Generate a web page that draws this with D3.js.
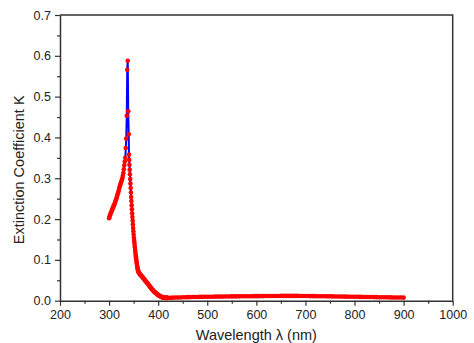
<!DOCTYPE html>
<html>
<head>
<meta charset="utf-8">
<script src="https://cdn.jsdelivr.net/npm/d3@7/dist/d3.min.js"></script>
<style>
  html, body { margin: 0; padding: 0; background: #fff; }
  svg { display: block; }
  text { font-family: "Liberation Sans", Arial, sans-serif; fill: #222; }
</style>
</head>
<body>
<svg id="chart" width="474" height="343"></svg>
<script>
// Extinction coefficient K of the film versus wavelength, sampled in segments.
// Near-UV rise, 300-332 nm every 1 nm
const riseStart = 300, riseStep = 1;
const riseK = [0.202, 0.206, 0.210, 0.213, 0.216, 0.219, 0.222, 0.225, 0.228, 0.231,
               0.234, 0.237, 0.240, 0.244, 0.247, 0.251, 0.255, 0.259, 0.263, 0.267,
               0.272, 0.277, 0.281, 0.285, 0.289, 0.292, 0.296, 0.300, 0.306, 0.313,
               0.322, 0.332, 0.341];
// Absorption peak, 333-340 nm every 1 nm
const peakStart = 333, peakStep = 1;
const peakK = [0.350, 0.374, 0.397, 0.453, 0.566, 0.588, 0.464, 0.408];
// Falling edge, 340.5-360 nm every 0.5 nm
const edgeStart = 340.5, edgeStep = 0.5;
const edgeK = [0.358, 0.345, 0.333, 0.321, 0.310, 0.298, 0.287, 0.276, 0.265, 0.254,
               0.244, 0.234, 0.224, 0.214, 0.205, 0.196, 0.187, 0.178, 0.170, 0.162,
               0.155, 0.149, 0.143, 0.137, 0.131, 0.125, 0.120, 0.114, 0.109, 0.104,
               0.099, 0.095, 0.091, 0.087, 0.083, 0.080, 0.077, 0.074, 0.072, 0.070];
// Shoulder and tail, 361-420 nm every 1 nm
const tailStart = 361, tailStep = 1;
const tailK = [0.068, 0.066, 0.065, 0.063, 0.062, 0.061, 0.059, 0.058, 0.056, 0.055,
               0.053, 0.052, 0.050, 0.049, 0.047, 0.046, 0.044, 0.043, 0.041, 0.040,
               0.038, 0.036, 0.035, 0.033, 0.032, 0.030, 0.029, 0.027, 0.026, 0.025,
               0.023, 0.022, 0.021, 0.020, 0.019, 0.018, 0.017, 0.016, 0.015, 0.014,
               0.013, 0.012, 0.012, 0.011, 0.010, 0.010, 0.009, 0.009, 0.008, 0.008,
               0.008, 0.007, 0.007, 0.007, 0.007, 0.007, 0.007, 0.007, 0.007, 0.007];
// Visible / near-IR plateau, 425-900 nm every 5 nm
const visStart = 425, visStep = 5;
const visK = [0.0070, 0.0075, 0.0078, 0.0080, 0.0080, 0.0083, 0.0085, 0.0087, 0.0088, 0.0090,
              0.0090, 0.0092, 0.0093, 0.0094, 0.0095, 0.0096, 0.0097, 0.0098, 0.0099, 0.0100,
              0.0100, 0.0101, 0.0102, 0.0103, 0.0104, 0.0105, 0.0105, 0.0106, 0.0107, 0.0108,
              0.0108, 0.0109, 0.0110, 0.0110, 0.0111, 0.0112, 0.0112, 0.0113, 0.0113, 0.0114,
              0.0114, 0.0115, 0.0115, 0.0116, 0.0116, 0.0117, 0.0117, 0.0118, 0.0118, 0.0118,
              0.0118, 0.0117, 0.0117, 0.0116, 0.0115, 0.0114, 0.0114, 0.0113, 0.0112, 0.0111,
              0.0110, 0.0110, 0.0109, 0.0108, 0.0107, 0.0106, 0.0105, 0.0104, 0.0103, 0.0102,
              0.0101, 0.0100, 0.0099, 0.0098, 0.0097, 0.0096, 0.0095, 0.0094, 0.0093, 0.0092,
              0.0091, 0.0090, 0.0089, 0.0088, 0.0087, 0.0086, 0.0085, 0.0084, 0.0083, 0.0082,
              0.0081, 0.0080, 0.0079, 0.0078, 0.0077, 0.0076];

const xTicks = [200, 300, 400, 500, 600, 700, 800, 900, 1000];
const yTicks = [0.0, 0.1, 0.2, 0.3, 0.4, 0.5, 0.6, 0.7];
const xTitle = "Wavelength λ (nm)";
const yTitle = "Extinction Coefficient K";

function segment(start, step, ks) {
  return ks.map((k, i) => ({ nm: start + i * step, k }));
}
const data = [].concat(
  segment(riseStart, riseStep, riseK),
  segment(peakStart, peakStep, peakK),
  segment(edgeStart, edgeStep, edgeK),
  segment(tailStart, tailStep, tailK),
  segment(visStart, visStep, visK)
);

const svg = d3.select("#chart");
const L = 60, R = 452.7, T = 15, B = 300.7;
const x = d3.scaleLinear().domain([200, 1000]).range([L, R]);
const y = d3.scaleLinear().domain([0, 0.7]).range([B, T]);
const axisColor = "#333";

// Frame (top and right edges without ticks)
svg.append("path")
  .attr("d", `M${L},${T}H${R}V${B}`)
  .attr("fill", "none").attr("stroke", axisColor).attr("stroke-width", 1.5);

// Minor ticks
const xMinor = d3.axisBottom(x).tickValues(d3.range(250, 1000, 100)).tickSize(3).tickFormat("");
const yMinor = d3.axisLeft(y).tickValues(d3.range(0.05, 0.7, 0.1)).tickSize(3).tickFormat("");
[svg.append("g").attr("transform", `translate(0,${B})`).call(xMinor),
 svg.append("g").attr("transform", `translate(${L},0)`).call(yMinor)].forEach(g => {
  g.select(".domain").remove();
  g.selectAll("line").attr("stroke", axisColor).attr("stroke-width", 1.2);
});

// Major axes
const xAxis = d3.axisBottom(x).tickValues(xTicks).tickSize(5).tickSizeOuter(0).tickPadding(4).tickFormat(d3.format("d"));
const yAxis = d3.axisLeft(y).tickValues(yTicks).tickSize(5).tickSizeOuter(0).tickPadding(4).tickFormat(d3.format(".1f"));
const gx = svg.append("g").attr("transform", `translate(0,${B})`).call(xAxis);
const gy = svg.append("g").attr("transform", `translate(${L},0)`).call(yAxis);
[gx, gy].forEach(g => {
  g.select(".domain").attr("stroke", axisColor).attr("stroke-width", 1.5);
  g.selectAll("line").attr("stroke", axisColor).attr("stroke-width", 1.2);
  g.selectAll("text").attr("font-size", 12.5).attr("fill", "#222")
    .attr("font-family", "'Liberation Sans', Arial, sans-serif");
});

// Axis titles
svg.append("text")
  .attr("x", (L + R) / 2).attr("y", 339.5)
  .attr("text-anchor", "middle").attr("font-size", 14.5)
  .text(xTitle);
svg.append("text")
  .attr("transform", `translate(24,${(T + B) / 2 + 12}) rotate(-90)`)
  .attr("text-anchor", "middle").attr("font-size", 14.5)
  .text(yTitle);

// Connecting line
svg.append("path")
  .datum(data)
  .attr("fill", "none").attr("stroke", "#0000ff").attr("stroke-width", 2)
  .attr("d", d3.line().x(d => x(d.nm)).y(d => y(d.k)));

// Sample markers
svg.append("g").selectAll("circle").data(data).join("circle")
  .attr("cx", d => x(d.nm)).attr("cy", d => y(d.k))
  .attr("r", 2.3).attr("fill", "#ff0000");
</script>
</body>
</html>
